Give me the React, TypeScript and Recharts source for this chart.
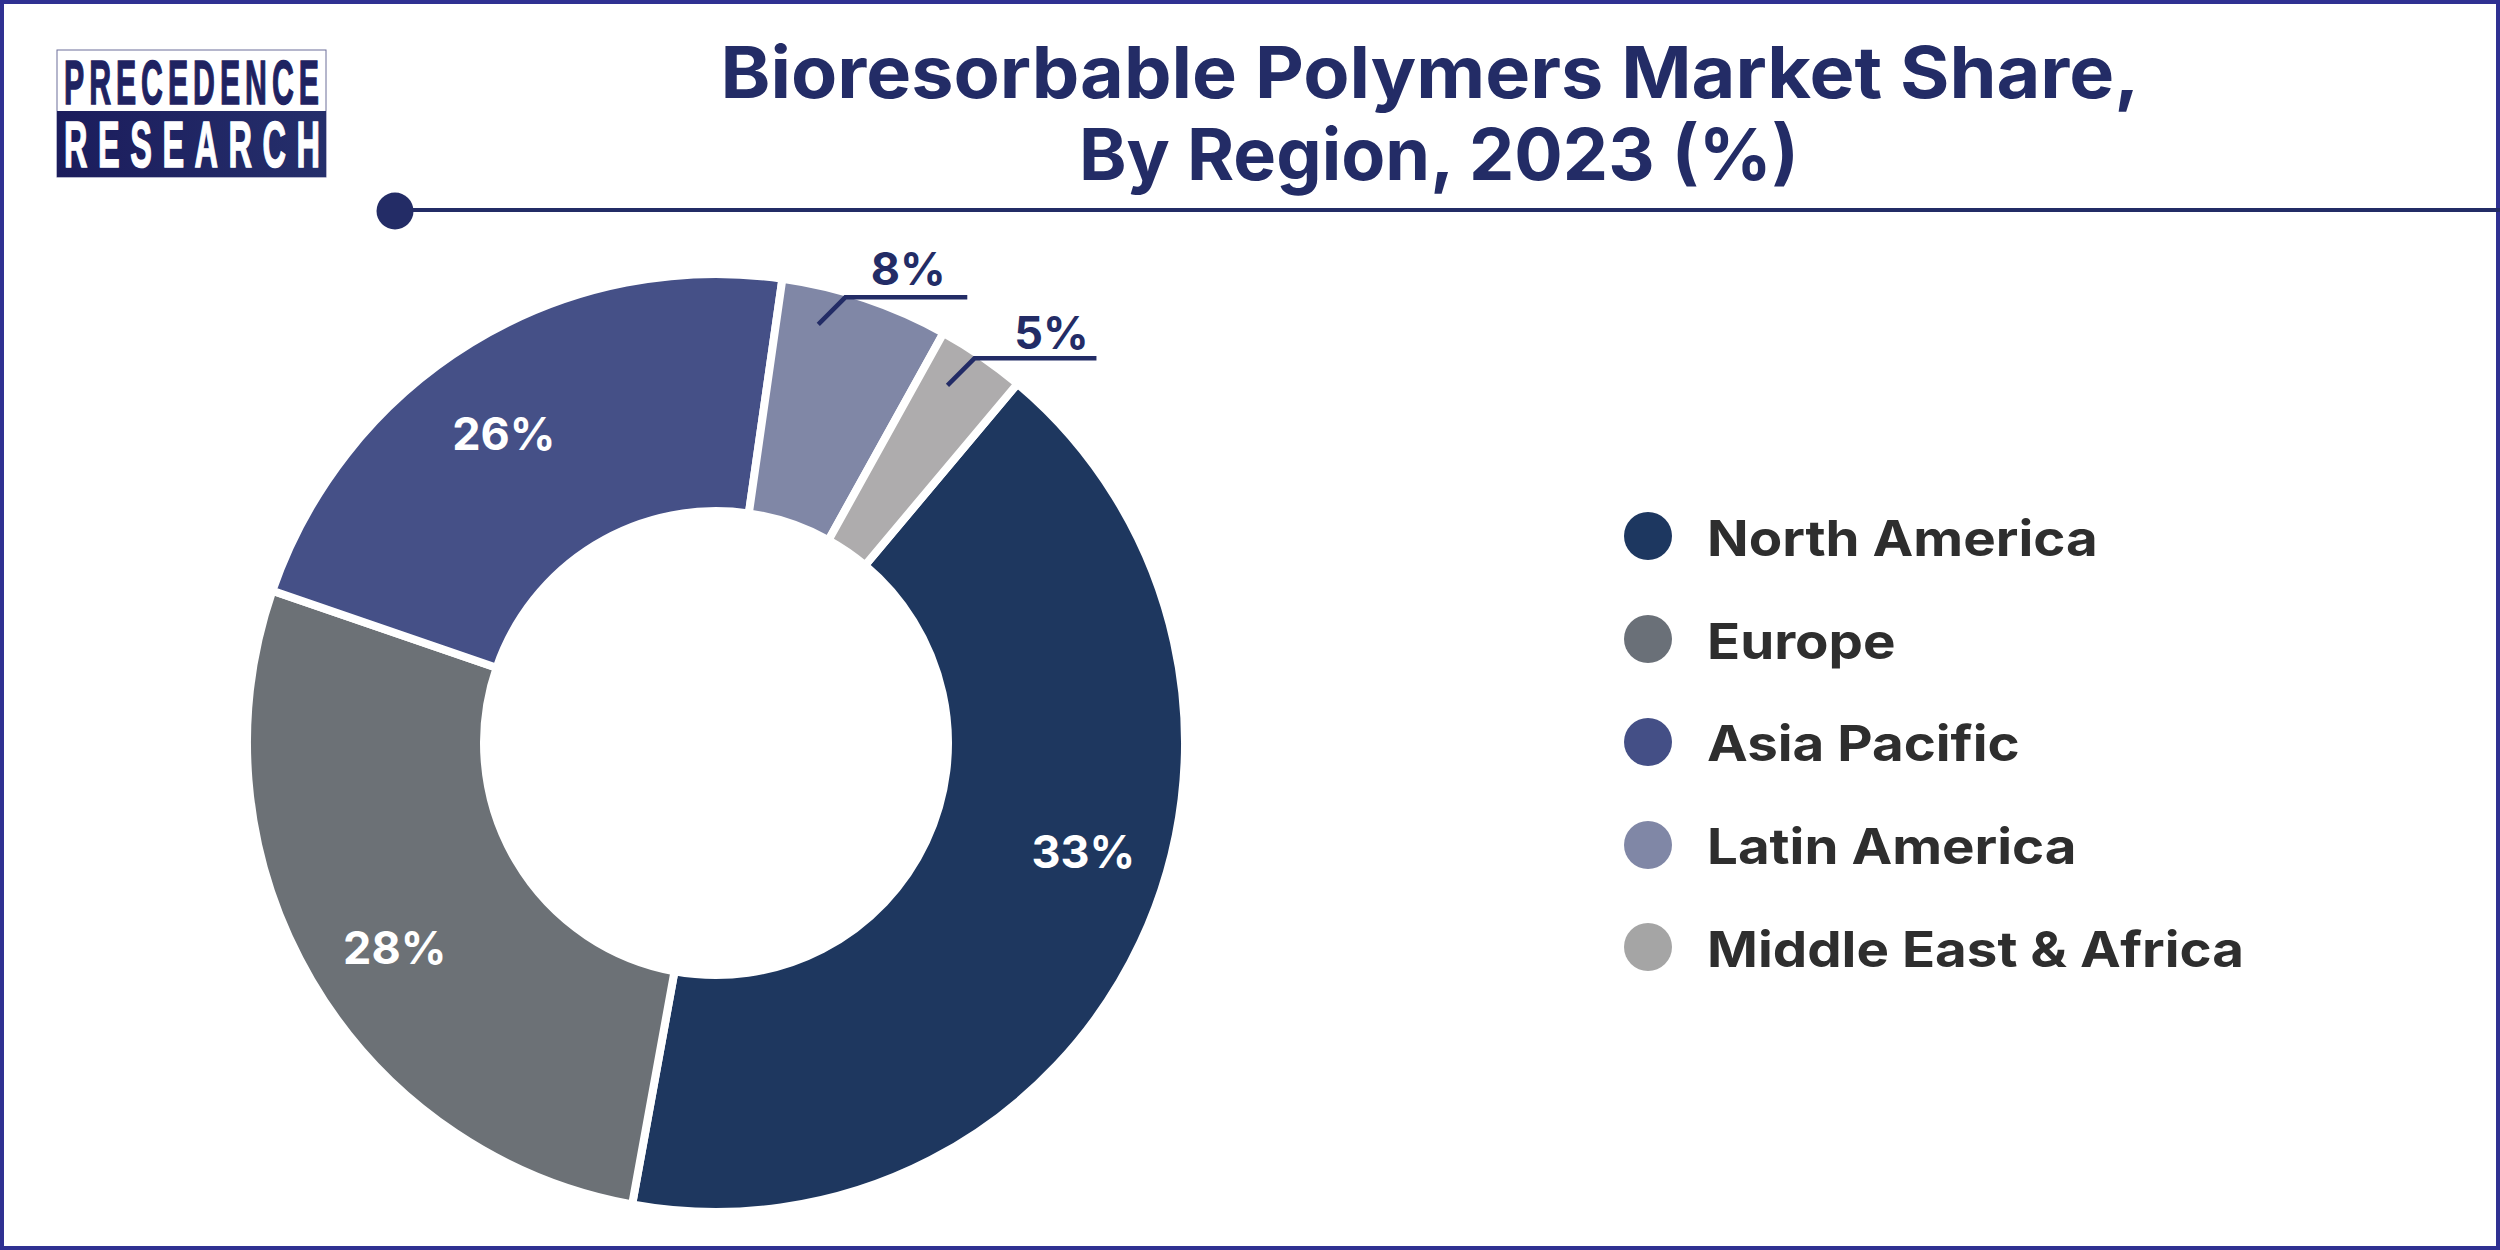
import { PieChart, Pie, Legend } from "recharts"

const regions = ["North America", "Europe", "Asia Pacific", "Latin America", "Middle East & Africa"]
// printed labels do not agree with the drawn slice sizes, so both are kept
const printedLabels = ["33%", "28%", "26%", "8%", "5%"]
const drawnShares = [41.75, 27.4, 22, 5.8, 3.05]
const sliceColors = ["#1e375f", "#6c7176", "#455087", "#8087a6", "#aeacad"]
const legendColors = ["#1d3760", "#6a7078", "#444f86", "#8087a6", "#a5a5a5"]

const NAVY = "#232c66"
const RADIAN = Math.PI / 180

// label placement relative to each slice's middle: angle shift and radius
const labelPlacement = [
  { shift: -8.75, radius: 383 },
  { shift: -2.15, radius: 381 },
  { shift: -3, radius: 375 },
  { shift: -4.85, radius: 431 },
  { shift: -1.6, radius: 426 },
]
const calloutTextOffset = [null, null, null, { dx: 63, dy: -29 }, { dx: 77, dy: -26 }]

const tableData = regions.map((name, i) => ({ name, value: drawnShares[i], fill: sliceColors[i] }))

function renderLabel(props: any) {
  const { cx, cy, midAngle, index } = props
  const place = labelPlacement[index]
  const angle = (midAngle - place.shift) * RADIAN
  const x = cx + place.radius * Math.cos(angle)
  const y = cy - place.radius * Math.sin(angle)
  const callout = calloutTextOffset[index]
  const font = { fontFamily: "Inter", fontWeight: 700, fontSize: 45, textAnchor: "middle" as const, dominantBaseline: "central" as const }
  if (!callout) {
    return (
      <text x={x} y={y} fill="#ffffff" {...font}>
        {printedLabels[index]}
      </text>
    )
  }
  const ex = x + 27
  const ey = y - 27
  return (
    <g>
      <polyline points={`${x},${y} ${ex},${ey} ${ex + 122},${ey}`} fill="none" stroke={NAVY} strokeWidth={4.5} />
      <text x={ex + callout.dx} y={ey + callout.dy} fill={NAVY} {...font}>
        {printedLabels[index]}
      </text>
    </g>
  )
}

function renderLegend() {
  return (
    <div>
      {regions.map((name, i) => (
        <div key={name} style={{ display: "flex", alignItems: "center", height: 102.75 }}>
          <span style={{ width: 48, height: 48, borderRadius: "50%", background: legendColors[i], marginRight: 35, flex: "none" }} />
          <span
            style={{
              fontFamily: "Inter",
              fontWeight: 700,
              fontSize: 49,
              color: "#2e2e2e",
              whiteSpace: "nowrap",
              position: "relative",
              top: 2,
              transform: "scaleX(1.115)",
              transformOrigin: "left center",
            }}
          >
            {name}
          </span>
        </div>
      ))}
    </div>
  )
}

function Header() {
  return (
    <svg width={2500} height={1250} style={{ position: "absolute", left: 0, top: 0, pointerEvents: "none" }}>
      <defs>
        <linearGradient id="logoFill" gradientUnits="userSpaceOnUse" x1="57" x2="326" y1="0" y2="0">
          <stop offset="0" stopColor="#1b1c5c" />
          <stop offset="1" stopColor="#252f6b" />
        </linearGradient>
      </defs>
      <rect x={2} y={2} width={2496} height={1246} fill="none" stroke="#2f3192" strokeWidth={4} />

      <rect x={57} y={50} width={269} height={127} fill="#ffffff" stroke="#6c6f99" strokeWidth={1} />
      <rect x={57} y={111} width={269} height={66} fill="url(#logoFill)" />
      <g transform="translate(64,104) scale(0.48,1)">
        <text fontFamily="Liberation Sans Narrow, Liberation Sans" fontWeight={700} fontSize={63} fill="#1f2362" stroke="#1f2362" strokeWidth={1.5} textLength={531} lengthAdjust="spacing">
          PRECEDENCE
        </text>
      </g>
      <g transform="translate(64,167) scale(0.5,1)">
        <text fontFamily="Liberation Sans Narrow, Liberation Sans" fontWeight={700} fontSize={65} fill="#ffffff" stroke="#ffffff" strokeWidth={1.5} textLength={512} lengthAdjust="spacing">
          RESEARCH
        </text>
      </g>

      <line x1={395} x2={2500} y1={210} y2={210} stroke={NAVY} strokeWidth={4} />
      <circle cx={395} cy={211} r={18.5} fill={NAVY} />

      <g fontFamily="Inter" fontWeight={700} fontSize={72} fill={NAVY} textAnchor="middle">
        <text x={1430} y={98} textLength={1419} lengthAdjust="spacingAndGlyphs">
          Bioresorbable Polymers Market Share,
        </text>
        <text x={1439} y={180} textLength={720} lengthAdjust="spacingAndGlyphs">
          By Region, 2023 (%)
        </text>
      </g>
    </svg>
  )
}

export default function App() {
  return (
    <div style={{ position: "absolute", left: 0, top: 0, width: 2500, height: 1250, background: "#ffffff", overflow: "hidden" }}>
      <PieChart width={2500} height={1250} margin={{ top: 0, right: 0, bottom: 0, left: 0 }}>
        <Pie
          data={tableData}
          dataKey="value"
          nameKey="name"
          cx={716}
          cy={743}
          innerRadius={232}
          outerRadius={469}
          startAngle={50}
          endAngle={-310}
          stroke="#ffffff"
          strokeWidth={8}
          label={renderLabel}
          labelLine={false}
          isAnimationActive={false}
        />
        <Legend
          content={renderLegend}
          layout="vertical"
          verticalAlign="middle"
          align="center"
          wrapperStyle={{ left: 1624, top: 485, width: 800 }}
        />
      </PieChart>
      <Header />
    </div>
  )
}
